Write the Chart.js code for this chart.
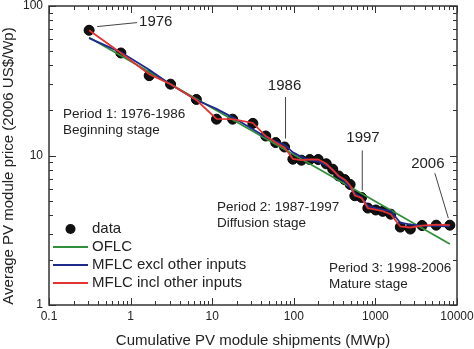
<!DOCTYPE html>
<html>
<head>
<meta charset="utf-8">
<script src="https://cdn.jsdelivr.net/npm/chart.js@4.4.0/dist/chart.umd.min.js"></script>
<style>
  html, body { margin: 0; padding: 0; background: #fff; }
  canvas { display: block; }
</style>
</head>
<body>
<canvas id="myChart" width="474" height="349"></canvas>
<script>
// yearly cumulative shipments (MWp) and module prices (2006 US$/Wp), 1976-2006
const years = [1976, 1977, 1978, 1979, 1980, 1981, 1982, 1983, 1984, 1985, 1986,
  1987, 1988, 1989, 1990, 1991, 1992, 1993, 1994, 1995, 1996, 1997,
  1998, 1999, 2000, 2001, 2002, 2003, 2004, 2005, 2006];
const shipments = [0.31, 0.76, 1.69, 3.09, 6.4, 11.3, 17.8, 31.5, 45.3, 60, 77,
  97.5, 124, 157, 199, 250, 300, 355, 420, 490, 560, 677,
  808, 1010, 1230, 1540, 2020, 2680, 3730, 5560, 8170];
const price = [68.8, 48.5, 34.2, 30.0, 23.7, 17.5, 17.5, 16.4, 13.5, 12.2, 11.4,
  9.45, 9.3, 9.4, 9.4, 8.8, 8.1, 7.3, 6.9, 6.4, 5.38, 5.24,
  4.45, 4.32, 4.23, 4.05, 3.32, 3.22, 3.4, 3.42, 3.42];
// fitted curves
const mflcExcl = [61, 49, 37.5, 29.8, 23.5, 20.5, 18.0, 15.0, 13.3, 12.4, 11.8,
  10.5, 9.8, 9.3, 9.1, 8.6, 8.0, 7.2, 6.7, 6.1, 5.6, 5.2,
  4.6, 4.45, 4.35, 4.25, 3.55, 3.45, 3.4, 3.38, 3.35];
const mflcIncl = [68.8, 48.5, 35, 30, 23.5, 17.6, 17.5, 16.5, 13.5, 12.2, 11.3,
  9.5, 9.3, 9.4, 9.4, 8.8, 8.0, 7.3, 6.9, 6.3, 5.4, 5.2,
  4.45, 4.35, 4.25, 4.05, 3.35, 3.3, 3.4, 3.45, 3.42];
const oflcX = [0.31, 8170];
const oflcY = [61.5, 2.56];

const xTickLabels = ['0.1', '1', '10', '100', '1000', '10000'];
const yTickLabels = ['1', '10', '100'];

const seriesNames = ['data', 'OFLC', 'MFLC excl other inputs', 'MFLC incl other inputs'];
const colors = { data: '#111', oflc: '#2f8f3a', excl: '#1c2a8c', incl: '#e23232' };

const FONT = '"Liberation Sans", Arial, sans-serif';
const TEXT = '#222';

function pts(xs, ys) {
  return xs.map((x, i) => ({ x, y: ys[i] }));
}

// frame with inward log ticks, labels, legend and year callouts
const frameAndText = {
  id: 'frameAndText',
  afterDatasetsDraw(chart) {
    const ctx = chart.ctx;
    const a = chart.chartArea;
    const xs = chart.scales.x, ys = chart.scales.y;
    ctx.save();

    ctx.strokeStyle = '#333';
    ctx.lineWidth = 1.5;
    ctx.strokeRect(a.left, a.top, a.right - a.left, a.bottom - a.top);

    ctx.lineWidth = 1;
    const logVals = (lo, hi) => {
      const out = [];
      for (let k = lo; k < hi; k++) {
        for (let d = 1; d <= 9; d++) out.push({ v: d * Math.pow(10, k), major: d === 1 });
      }
      out.push({ v: Math.pow(10, hi), major: true });
      return out;
    };
    ctx.beginPath();
    for (const t of logVals(-1, 4)) {
      const px = Math.round(xs.getPixelForValue(t.v)) + 0.5;
      const len = t.major ? 7 : 4;
      ctx.moveTo(px, a.bottom); ctx.lineTo(px, a.bottom - len);
      ctx.moveTo(px, a.top); ctx.lineTo(px, a.top + len);
    }
    for (const t of logVals(0, 2)) {
      const py = Math.round(ys.getPixelForValue(t.v)) + 0.5;
      const len = t.major ? 7 : 4;
      ctx.moveTo(a.left, py); ctx.lineTo(a.left + len, py);
      ctx.moveTo(a.right, py); ctx.lineTo(a.right - len, py);
    }
    ctx.stroke();

    // tick labels
    ctx.fillStyle = TEXT;
    ctx.font = '12px ' + FONT;
    ctx.textAlign = 'center';
    ctx.textBaseline = 'middle';
    xTickLabels.forEach(l => ctx.fillText(l, xs.getPixelForValue(parseFloat(l)), a.bottom + 12));
    ctx.textAlign = 'right';
    yTickLabels.forEach(l => ctx.fillText(l, a.left - 6, ys.getPixelForValue(parseFloat(l))));

    // axis titles
    ctx.font = '15px ' + FONT;
    ctx.textAlign = 'center';
    ctx.fillText('Cumulative PV module shipments (MWp)', (a.left + a.right) / 2, 341);
    ctx.save();
    ctx.translate(9, 166);
    ctx.rotate(-Math.PI / 2);
    ctx.fillText('Average PV module price (2006 US$/Wp)', 0, 0);
    ctx.restore();

    // legend
    ctx.textAlign = 'left';
    const lx = a.left + 4, rowY = [229, 247, 265, 283];
    ctx.fillStyle = colors.data;
    ctx.beginPath();
    ctx.arc(lx + 17.5, rowY[0], 5, 0, Math.PI * 2);
    ctx.fill();
    [colors.oflc, colors.excl, colors.incl].forEach((c, i) => {
      ctx.strokeStyle = c;
      ctx.lineWidth = 1.8;
      ctx.beginPath();
      ctx.moveTo(lx, rowY[i + 1]);
      ctx.lineTo(lx + 35, rowY[i + 1]);
      ctx.stroke();
    });
    ctx.fillStyle = TEXT;
    seriesNames.forEach((n, i) => ctx.fillText(n, lx + 39, rowY[i]));

    // year callouts anchored on data points
    const callouts = [
      { i: 0, from: [8, -3.7], to: [48, -7.7], text: [50, -8.4], align: 'left' },
      { i: 10, from: [1, -8.5], to: [1, -50], text: [0, -61.5], align: 'center' },
      { i: 21, from: [0.7, -7], to: [0.7, -47], text: [1.4, -60], align: 'center' },
      { i: 30, from: [-1.5, -7], to: [-15, -52], text: [-22, -61], align: 'center' }
    ];
    ctx.strokeStyle = '#444';
    ctx.lineWidth = 1;
    for (const c of callouts) {
      const px = xs.getPixelForValue(shipments[c.i]);
      const py = ys.getPixelForValue(price[c.i]);
      ctx.beginPath();
      ctx.moveTo(px + c.from[0], py + c.from[1]);
      ctx.lineTo(px + c.to[0], py + c.to[1]);
      ctx.stroke();
      ctx.textAlign = c.align;
      ctx.fillText(String(years[c.i]), px + c.text[0], py + c.text[1]);
    }

    // period notes
    ctx.font = '13.5px ' + FONT;
    ctx.textAlign = 'left';
    ctx.fillText('Period 1: 1976-1986', 63, 114);
    ctx.fillText('Beginning stage', 63, 130);
    ctx.fillText('Period 2: 1987-1997', 217, 207);
    ctx.fillText('Diffusion stage', 217, 223);
    ctx.fillText('Period 3: 1998-2006', 329, 268);
    ctx.fillText('Mature stage', 329, 284);

    ctx.restore();
  }
};

const ctx = document.getElementById('myChart').getContext('2d');
const myChart = new Chart(ctx, {
  type: 'scatter',
  data: {
    datasets: [
      {
        label: seriesNames[3],
        data: pts(shipments, mflcIncl),
        showLine: true,
        borderColor: colors.incl,
        borderWidth: 1.8,
        pointRadius: 0,
        order: 1
      },
      {
        label: seriesNames[2],
        data: pts(shipments, mflcExcl),
        showLine: true,
        borderColor: colors.excl,
        borderWidth: 1.8,
        pointRadius: 0,
        order: 2
      },
      {
        label: seriesNames[1],
        data: pts(oflcX, oflcY),
        showLine: true,
        borderColor: colors.oflc,
        borderWidth: 1.8,
        pointRadius: 0,
        order: 3
      },
      {
        label: seriesNames[0],
        data: pts(shipments, price),
        backgroundColor: colors.data,
        borderColor: '#000',
        borderWidth: 1,
        pointRadius: 5,
        order: 4
      }
    ]
  },
  options: {
    responsive: false,
    animation: false,
    events: [],
    layout: { padding: { left: 49, right: 17, top: 5, bottom: 44 } },
    plugins: { legend: { display: false }, tooltip: { enabled: false } },
    scales: {
      x: { type: 'logarithmic', min: 0.1, max: 10000, display: false },
      y: { type: 'logarithmic', min: 1, max: 100, display: false }
    }
  },
  plugins: [frameAndText]
});
</script>
</body>
</html>
